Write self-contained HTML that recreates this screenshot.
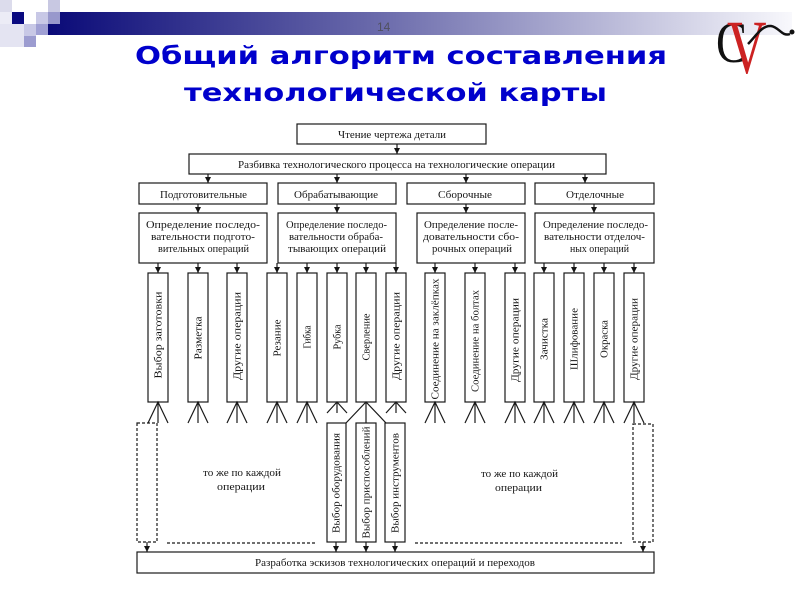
<!DOCTYPE html>
<html><head><meta charset="utf-8">
<style>
html,body{margin:0;padding:0;background:#fff;}
svg{display:block;}
.t{font-family:"Liberation Serif","DejaVu Serif",serif;font-size:11px;fill:#151515;}
.ttl{font-family:"DejaVu Sans","Liberation Sans",sans-serif;font-weight:bold;font-size:25px;fill:#0000cc;}
</style></head>
<body>
<svg width="800" height="600" viewBox="0 0 800 600" xmlns="http://www.w3.org/2000/svg">
<defs>
<linearGradient id="bar" x1="48" y1="0" x2="792" y2="0" gradientUnits="userSpaceOnUse">
<stop offset="0" stop-color="#0a0a78"/>
<stop offset="0.45" stop-color="#6c6cac"/>
<stop offset="1" stop-color="#f8f8fc"/>
</linearGradient>
<marker id="ah" markerWidth="6" markerHeight="6" refX="6" refY="3" orient="auto" markerUnits="userSpaceOnUse">
<path d="M0,0 L6,3 L0,6 z" fill="#151515"/>
</marker>
</defs>

<!-- header decoration -->
<rect x="48" y="12" width="744" height="23" fill="url(#bar)"/>
<rect x="0" y="0" width="12" height="12" fill="#dcdcec"/>
<rect x="0" y="12" width="12" height="12" fill="#ececf6"/>
<rect x="12" y="12" width="12" height="12" fill="#0a0a80"/>
<rect x="0" y="24" width="24" height="23" fill="#e4e4f2"/>
<rect x="24" y="24" width="12" height="12" fill="#c8c8e6"/>
<rect x="24" y="36" width="12" height="11" fill="#9c9cd0"/>
<rect x="36" y="12" width="12" height="12" fill="#c8c8e6"/>
<rect x="36" y="24" width="12" height="11" fill="#a0a0d4"/>
<rect x="48" y="0" width="12" height="12" fill="#c8c8e2"/>
<rect x="48" y="12" width="12" height="12" fill="#9898cc"/>
<text x="377" y="31" font-family="Liberation Sans, sans-serif" font-size="12" fill="#505060">14</text>

<!-- logo -->
<text transform="translate(716,62) scale(0.8,1)" font-family="Liberation Serif, serif" font-size="58" fill="#111">C</text>
<text transform="translate(727,73) scale(0.72,1)" font-family="Liberation Serif, serif" font-size="76" fill="#cc2222">V</text>
<path d="M748,44 C756,36 762,25 771,26 C779,27 782,37 790,34" stroke="#111" stroke-width="2.5" fill="none"/>
<circle cx="792" cy="32" r="2.5" fill="#111"/>

<!-- title -->
<text class="ttl" x="135" y="64" textLength="532" lengthAdjust="spacingAndGlyphs">Общий алгоритм составления</text>
<text class="ttl" x="184" y="101" textLength="423" lengthAdjust="spacingAndGlyphs">технологической карты</text>

<!-- diagram -->
<g stroke="#1a1a1a" stroke-width="1.2" fill="none">
<rect x="297" y="124" width="189" height="20"/>
<rect x="189" y="154" width="417" height="20"/>
<rect x="139" y="183" width="128" height="21"/>
<rect x="278" y="183" width="118" height="21"/>
<rect x="407" y="183" width="118" height="21"/>
<rect x="535" y="183" width="119" height="21"/>
<rect x="139" y="213" width="128" height="50"/>
<rect x="278" y="213" width="118" height="50"/>
<rect x="417" y="213" width="108" height="50"/>
<rect x="535" y="213" width="119" height="50"/>

<rect x="148" y="273" width="20" height="129"/>
<rect x="188" y="273" width="20" height="129"/>
<rect x="227" y="273" width="20" height="129"/>
<rect x="267" y="273" width="20" height="129"/>
<rect x="297" y="273" width="20" height="129"/>
<rect x="327" y="273" width="20" height="129"/>
<rect x="356" y="273" width="20" height="129"/>
<rect x="386" y="273" width="20" height="129"/>
<rect x="425" y="273" width="20" height="129"/>
<rect x="465" y="273" width="20" height="129"/>
<rect x="505" y="273" width="20" height="129"/>
<rect x="534" y="273" width="20" height="129"/>
<rect x="564" y="273" width="20" height="129"/>
<rect x="594" y="273" width="20" height="129"/>
<rect x="624" y="273" width="20" height="129"/>

<rect x="327" y="423" width="19" height="119"/>
<rect x="356" y="423" width="20" height="119"/>
<rect x="385" y="423" width="20" height="119"/>

<rect x="137" y="552" width="517" height="21"/>

<g stroke-dasharray="3,2">
<rect x="137" y="423" width="20" height="119"/>
<rect x="633" y="424" width="20" height="118"/>
<line x1="167" y1="543" x2="315" y2="543"/>
<line x1="415" y1="543" x2="622" y2="543"/>
</g>

<!-- arrows -->
<g marker-end="url(#ah)">
<line x1="397" y1="144" x2="397" y2="154"/>
<line x1="208" y1="174" x2="208" y2="183"/>
<line x1="337" y1="174" x2="337" y2="183"/>
<line x1="466" y1="174" x2="466" y2="183"/>
<line x1="585" y1="174" x2="585" y2="183"/>
<line x1="198" y1="204" x2="198" y2="213"/>
<line x1="337" y1="204" x2="337" y2="213"/>
<line x1="466" y1="204" x2="466" y2="213"/>
<line x1="594" y1="204" x2="594" y2="213"/>
<line x1="158" y1="263" x2="158" y2="273"/>
<line x1="198" y1="263" x2="198" y2="273"/>
<line x1="237" y1="263" x2="237" y2="273"/>
<line x1="277" y1="263" x2="277" y2="273"/>
<line x1="307" y1="263" x2="307" y2="273"/>
<line x1="337" y1="263" x2="337" y2="273"/>
<line x1="366" y1="263" x2="366" y2="273"/>
<line x1="396" y1="263" x2="396" y2="273"/>
<line x1="435" y1="263" x2="435" y2="273"/>
<line x1="475" y1="263" x2="475" y2="273"/>
<line x1="515" y1="263" x2="515" y2="273"/>
<line x1="544" y1="263" x2="544" y2="273"/>
<line x1="574" y1="263" x2="574" y2="273"/>
<line x1="604" y1="263" x2="604" y2="273"/>
<line x1="634" y1="263" x2="634" y2="273"/>
<line x1="147" y1="542" x2="147" y2="552"/>
<line x1="336" y1="542" x2="336" y2="552"/>
<line x1="366" y1="542" x2="366" y2="552"/>
<line x1="395" y1="542" x2="395" y2="552"/>
<line x1="643" y1="542" x2="643" y2="552"/>
</g>

<!-- fans -->
<path d="M148,423 L158,402 L168,423 M158,402 L158,423"/>
<path d="M188,423 L198,402 L208,423 M198,402 L198,423"/>
<path d="M227,423 L237,402 L247,423 M237,402 L237,423"/>
<path d="M267,423 L277,402 L287,423 M277,402 L277,423"/>
<path d="M297,423 L307,402 L317,423 M307,402 L307,423"/>
<path d="M327,413 L337,402 L347,413 M337,402 L337,413"/>
<path d="M346,423 L366,402 L386,423 M366,402 L366,423"/>
<path d="M386,413 L396,402 L406,413 M396,402 L396,413"/>
<path d="M425,423 L435,402 L445,423 M435,402 L435,423"/>
<path d="M465,423 L475,402 L485,423 M475,402 L475,423"/>
<path d="M505,423 L515,402 L525,423 M515,402 L515,423"/>
<path d="M534,423 L544,402 L554,423 M544,402 L544,423"/>
<path d="M564,423 L574,402 L584,423 M574,402 L574,423"/>
<path d="M594,423 L604,402 L614,423 M604,402 L604,423"/>
<path d="M624,423 L634,402 L644,423 M634,402 L634,423"/>
</g>

<!-- horizontal labels -->
<g class="t">
<text class="t" x="338" y="138" textLength="108" lengthAdjust="spacingAndGlyphs">Чтение чертежа детали</text>
<text class="t" x="238" y="168" textLength="317" lengthAdjust="spacingAndGlyphs">Разбивка технологического процесса на технологические операции</text>
<text class="t" x="160" y="198" textLength="87" lengthAdjust="spacingAndGlyphs">Подготовительные</text>
<text class="t" x="294" y="198" textLength="84" lengthAdjust="spacingAndGlyphs">Обрабатывающие</text>
<text class="t" x="438" y="198" textLength="54" lengthAdjust="spacingAndGlyphs">Сборочные</text>
<text class="t" x="566" y="198" textLength="58" lengthAdjust="spacingAndGlyphs">Отделочные</text>

<text class="t" x="146" y="228" textLength="114" lengthAdjust="spacingAndGlyphs">Определение последо-</text>
<text class="t" x="151" y="240" textLength="104" lengthAdjust="spacingAndGlyphs">вательности подгото-</text>
<text class="t" x="158" y="252" textLength="91" lengthAdjust="spacingAndGlyphs">вительных операций</text>

<text class="t" x="286" y="228" textLength="101" lengthAdjust="spacingAndGlyphs">Определение последо-</text>
<text class="t" x="289" y="240" textLength="94" lengthAdjust="spacingAndGlyphs">вательности обраба-</text>
<text class="t" x="288" y="252" textLength="98" lengthAdjust="spacingAndGlyphs">тывающих операций</text>

<text class="t" x="424" y="228" textLength="94" lengthAdjust="spacingAndGlyphs">Определение после-</text>
<text class="t" x="423" y="240" textLength="96" lengthAdjust="spacingAndGlyphs">довательности сбо-</text>
<text class="t" x="432" y="252" textLength="80" lengthAdjust="spacingAndGlyphs">рочных операций</text>

<text class="t" x="543" y="228" textLength="105" lengthAdjust="spacingAndGlyphs">Определение последо-</text>
<text class="t" x="544" y="240" textLength="101" lengthAdjust="spacingAndGlyphs">вательности отделоч-</text>
<text class="t" x="570" y="252" textLength="59" lengthAdjust="spacingAndGlyphs">ных операций</text>

<text class="t" x="203" y="476" textLength="78" lengthAdjust="spacingAndGlyphs">то же по каждой</text>
<text class="t" x="217" y="490" textLength="48" lengthAdjust="spacingAndGlyphs">операции</text>
<text class="t" x="481" y="477" textLength="77" lengthAdjust="spacingAndGlyphs">то же по каждой</text>
<text class="t" x="495" y="491" textLength="47" lengthAdjust="spacingAndGlyphs">операции</text>

<text class="t" x="255" y="566" textLength="280" lengthAdjust="spacingAndGlyphs">Разработка эскизов технологических операций и переходов</text>
</g>

<!-- vertical labels -->
<g class="t">
<text class="t" transform="translate(161.5,378.5) rotate(-90)" textLength="87" lengthAdjust="spacingAndGlyphs">Выбор заготовки</text>
<text class="t" transform="translate(201.5,359.5) rotate(-90)" textLength="43" lengthAdjust="spacingAndGlyphs">Разметка</text>
<text class="t" transform="translate(240.5,380) rotate(-90)" textLength="88" lengthAdjust="spacingAndGlyphs">Другие операции</text>
<text class="t" transform="translate(280.5,356.5) rotate(-90)" textLength="37" lengthAdjust="spacingAndGlyphs">Резание</text>
<text class="t" transform="translate(310.5,348.5) rotate(-90)" textLength="23" lengthAdjust="spacingAndGlyphs">Гибка</text>
<text class="t" transform="translate(340.5,349.5) rotate(-90)" textLength="25" lengthAdjust="spacingAndGlyphs">Рубка</text>
<text class="t" transform="translate(369.5,360.5) rotate(-90)" textLength="47" lengthAdjust="spacingAndGlyphs">Сверление</text>
<text class="t" transform="translate(399.5,380) rotate(-90)" textLength="88" lengthAdjust="spacingAndGlyphs">Другие операции</text>
<text class="t" transform="translate(438.5,399.5) rotate(-90)" textLength="121" lengthAdjust="spacingAndGlyphs">Соединение на заклёпках</text>
<text class="t" transform="translate(478.5,392) rotate(-90)" textLength="102" lengthAdjust="spacingAndGlyphs">Соединение на болтах</text>
<text class="t" transform="translate(518.5,382) rotate(-90)" textLength="84" lengthAdjust="spacingAndGlyphs">Другие операции</text>
<text class="t" transform="translate(547.5,360) rotate(-90)" textLength="42" lengthAdjust="spacingAndGlyphs">Зачистка</text>
<text class="t" transform="translate(577.5,370) rotate(-90)" textLength="62" lengthAdjust="spacingAndGlyphs">Шлифование</text>
<text class="t" transform="translate(607.5,358) rotate(-90)" textLength="38" lengthAdjust="spacingAndGlyphs">Окраска</text>
<text class="t" transform="translate(637.5,380) rotate(-90)" textLength="82" lengthAdjust="spacingAndGlyphs">Другие операции</text>
<text class="t" transform="translate(339.5,533) rotate(-90)" textLength="100" lengthAdjust="spacingAndGlyphs">Выбор оборудования</text>
<text class="t" transform="translate(369.5,538.5) rotate(-90)" textLength="112" lengthAdjust="spacingAndGlyphs">Выбор приспособлений</text>
<text class="t" transform="translate(398.5,533) rotate(-90)" textLength="100" lengthAdjust="spacingAndGlyphs">Выбор инструментов</text>
</g>
</svg>
</body></html>
